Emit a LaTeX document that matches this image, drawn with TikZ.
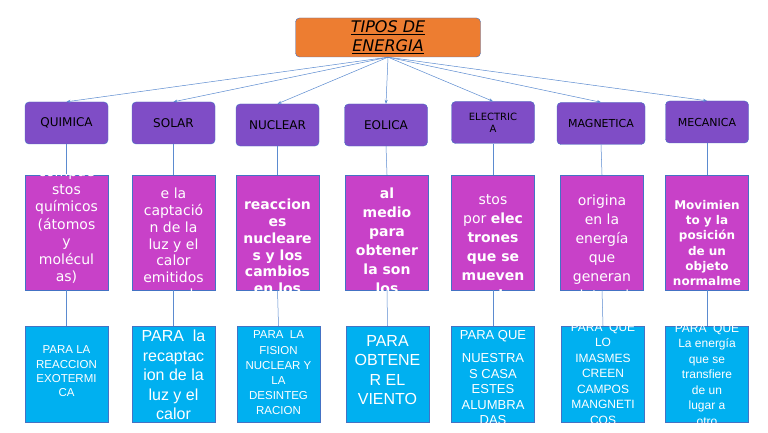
\documentclass[tikz,border=0pt]{standalone}
\usepackage{fontspec}
\setmainfont{DejaVu Sans}
\newfontfamily\lib{Liberation Sans}
\usetikzlibrary{arrows.meta}
\definecolor{org}{HTML}{ED7D31}
\definecolor{pur}{HTML}{7F4DC6}
\definecolor{mag}{HTML}{C841C8}
\definecolor{cya}{HTML}{00B0F0}
\definecolor{edg}{HTML}{4472C4}
\definecolor{lin}{HTML}{5B8BD0}
\tikzset{
 catbox/.style={draw=edg,fill=pur,rounded corners=4pt,minimum width=83pt,minimum height=42pt,font=\fontsize{12}{14}\selectfont,align=center,inner sep=1pt},
 midbox/.style={draw=edg,fill=mag,minimum width=83pt,minimum height=115pt,inner sep=0pt},
 lowbox/.style={draw=edg,fill=cya,minimum width=83pt,minimum height=96pt,inner sep=0pt},
 link/.style={draw=lin,line width=0.5pt},
 arr/.style={link,-{Stealth[length=4pt,width=3pt]}},
 wt/.style={text=white,align=center,inner sep=0pt}
}
\newcommand{\cliptext}[4]{\begin{scope}\clip (#1.north west) rectangle (#1.south east);\node[wt,anchor=north,font=#3] at ([yshift=#2]#1.north) {#4};\end{scope}}
\begin{document}
\begin{tikzpicture}[x=1pt,y=-1pt]
\useasboundingbox[fill=white] (0,0) rectangle (768,433);
\node[draw=edg,fill=org,rounded corners=4pt,minimum width=185pt,minimum height=39pt,align=center,inner sep=0pt,font=\fontsize{16}{19}\selectfont\itshape] (top) at (388,37.5) {\underline{TIPOS DE}\\\underline{ENERGIA}};
\node[catbox] (c1) at (66.5,123) {QUIMICA};
\node[catbox] (c2) at (173.5,123) {SOLAR};
\node[catbox] (c3) at (277.5,125) {NUCLEAR};
\node[catbox] (c4) at (386,125) {EOLICA};
\node[catbox,font=\fontsize{10}{12}\selectfont] (c5) at (493,122.5) {ELECTRIC\\A};
\node[catbox,minimum width=88pt,font=\fontsize{11}{13}\selectfont] (c6) at (601,123.5) {MAGNETICA};
\node[catbox,font=\fontsize{11}{13}\selectfont] (c7) at (707,122) {MECANICA};
\foreach \i in {1,...,7}{\draw[arr] (top.south) -- (c\i.north);}
\node[midbox] (m1) at (66.5,232.5) {};
\node[midbox] (m2) at (173.5,232.5) {};
\node[midbox] (m3) at (277.5,232.5) {};
\node[midbox] (m4) at (387,232.5) {};
\node[midbox] (m5) at (493,232.5) {};
\node[midbox] (m6) at (602,232.5) {};
\node[midbox] (m7) at (707,232.5) {};
\node[lowbox] (l1) at (66.5,374) {};
\node[lowbox] (l2) at (173.5,374) {};
\node[lowbox] (l3) at (278.5,374) {};
\node[lowbox] (l4) at (387.5,374) {};
\node[lowbox] (l5) at (493,374) {};
\node[lowbox] (l6) at (603,374) {};
\node[lowbox] (l7) at (707,374) {};
\foreach \i in {1,...,7}{\draw[link] (c\i.south) -- (m\i.north);}
\cliptext{m1}{6pt}{\fontsize{14}{17.5}\selectfont}{compue\\stos\\químicos\\(átomos\\y\\molécul\\as)}
\cliptext{m2}{-13pt}{\fontsize{14}{16.8}\selectfont}{e la\\captació\\n de la\\luz y el\\calor\\emitidos\\por el}
\cliptext{m3}{-24pt}{\fontsize{14}{16.8}\selectfont\bfseries}{reaccion\\es\\nucleare\\s y los\\cambios\\en los\\núcleos\\atómicos}
\cliptext{m4}{-13pt}{\fontsize{14}{19}\selectfont\bfseries}{al\\medio\\para\\obtener\\la son\\los\\“molino}
\cliptext{m5}{-20pt}{\fontsize{14}{19}\selectfont}{stos\\por \textbf{elec}\\\textbf{trones}\\\textbf{que se}\\\textbf{mueven}\\\textbf{constan}\\\textbf{tement}}
\cliptext{m6}{-20pt}{\fontsize{14}{19}\selectfont}{origina\\en la\\energía\\que\\generan\\determi\\nados}
\cliptext{m7}{-25pt}{\fontsize{12}{15.3}\selectfont\bfseries}{Movimien\\to y la\\posición\\de un\\objeto\\normalme\\nte en\\algún\\campo de\\fuerza}
\cliptext{l1}{-20pt}{\lib\fontsize{11.5}{14.3}\selectfont}{PARA LA\\REACCION\\EXOTERMI\\CA}
\cliptext{l2}{-4pt}{\lib\fontsize{16}{19.5}\selectfont}{PARA\ \ la\\recaptac\\ion de la\\luz y el\\calor}
\cliptext{l3}{-5pt}{\lib\fontsize{11.5}{15.2}\selectfont}{PARA\ \ LA\\FISION\\NUCLEAR Y\\LA\\DESINTEG\\RACION}
\cliptext{l4}{-9pt}{\lib\fontsize{16}{19.5}\selectfont}{PARA\\OBTENE\\R EL\\VIENTO}
\cliptext{l5}{-4pt}{\lib\fontsize{13}{15.5}\selectfont}{PARA QUE\\[8pt]NUESTRA\\S CASA\\ESTES\\ALUMBRA\\DAS}
\cliptext{l6}{3pt}{\lib\fontsize{12}{15.5}\selectfont}{PARA\ \ QUE\\LO\\IMASMES\\CREEN\\CAMPOS\\MANGNETI\\COS}
\cliptext{l7}{2pt}{\lib\fontsize{12}{15.5}\selectfont}{PARA\ \ QUE\\La energía\\que se\\transfiere\\de un\\lugar a\\otro}
\foreach \i in {1,...,7}{\draw[link] (m\i.south) -- (l\i.north);}
\end{tikzpicture}
\end{document}
